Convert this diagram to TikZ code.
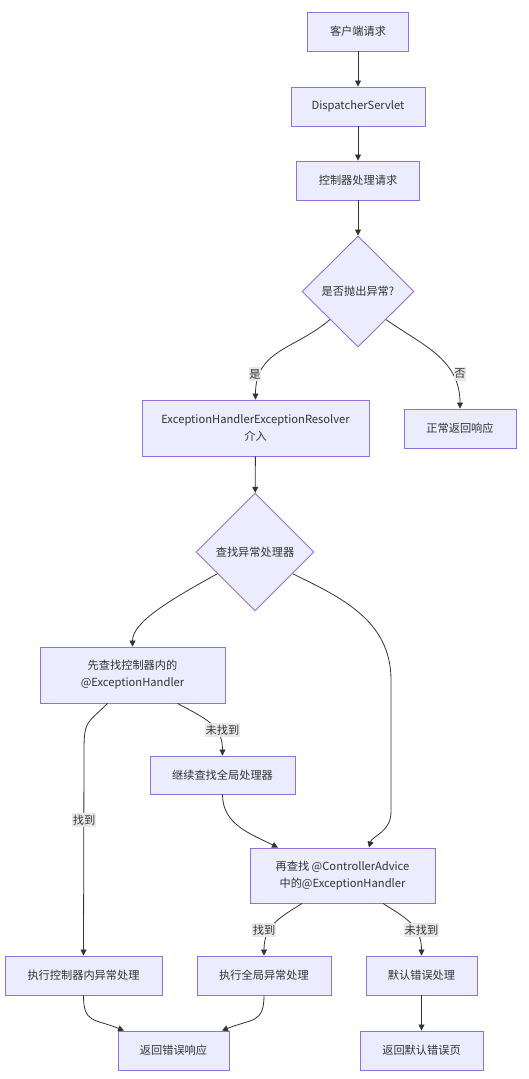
\documentclass[tikz,border=0pt]{standalone}
\usepackage{fontspec}
\setmainfont{Noto Sans CJK SC}
\usepackage{tikz}
\usetikzlibrary{arrows.meta,shapes.geometric}

\definecolor{boxfill}{HTML}{ECECFF}
\definecolor{boxline}{HTML}{9370DB}
\definecolor{edgeline}{HTML}{333333}
\definecolor{lblfill}{HTML}{E8E8E8}

\begin{document}
\begin{tikzpicture}[x=1pt,y=-1pt,font=\fontsize{11.2}{17}\selectfont]
                \tikzstyle{mybox}=[draw=boxline,fill=boxfill,line width=0.9pt,text=edgeline,inner sep=0pt,align=center]
                \tikzstyle{mydiamond}=[mybox,diamond,aspect=1]
                \tikzstyle{mylabel}=[fill=lblfill,text=edgeline,inner xsep=0.5pt,inner ysep=2pt]
                \tikzstyle{myarrows}=[draw=edgeline,line width=0.8pt,-{Triangle[length=6pt,width=6pt]}]
                \useasboundingbox (0,0) rectangle (528,1079);

                \node[mybox,minimum width=101,minimum height=39] (req) at (358,31.5) {客户端请求};
                \node[mybox,minimum width=134,minimum height=39] (disp) at (358,106.5) {DispatcherServlet};
                \node[mybox,minimum width=123,minimum height=39] (ctrl) at (358,180.5) {控制器处理请求};
                \node[mydiamond,minimum width=112,minimum height=111] (thrown) at (358,291.5) {是否抛出异常?};
                \node[mybox,minimum width=227,minimum height=56] (resolver) at (255.5,428) {ExceptionHandlerExceptionResolver\\介入};
                \node[mybox,minimum width=112,minimum height=39] (normal) at (460,428.5) {正常返回响应};
                \node[mydiamond,minimum width=118,minimum height=118] (lookup) at (255,552) {查找异常处理器};
                \node[mybox,minimum width=185,minimum height=56] (local) at (132.5,675) {先查找控制器内的\\@ExceptionHandler};
                \node[mybox,minimum width=145,minimum height=38] (global) at (222.5,775) {继续查找全局处理器};
                \node[mybox,minimum width=185,minimum height=55] (advice) at (342.5,875.5) {再查找 @ControllerAdvice\\中的@ExceptionHandler};
                \node[mybox,minimum width=157,minimum height=39] (runlocal) at (83.5,975.5) {执行控制器内异常处理};
                \node[mybox,minimum width=134,minimum height=39] (runglobal) at (264,975.5) {执行全局异常处理};
                \node[mybox,minimum width=111,minimum height=39] (default) at (421.5,975.5) {默认错误处理};
                \node[mybox,minimum width=111,minimum height=39] (errresp) at (173.5,1050.5) {返回错误响应};
                \node[mybox,minimum width=123,minimum height=39] (errpage) at (421.5,1050.5) {返回默认错误页};

                \draw[myarrows] (req) -- (disp);
                \draw[myarrows] (disp) -- (ctrl);
                \draw[myarrows] (ctrl) -- (thrown);
                \draw[myarrows] (thrown.-135) .. controls +(-35,30) and +(0,-50) .. (resolver.north);
                \draw[myarrows] (thrown.-45) .. controls +(35,25) and +(0,-50) .. (normal.north);
                \draw[myarrows] (resolver) -- (lookup);
                \draw[myarrows] (lookup.-150) .. controls +(-45,25) and +(0,-25) .. (local.north);
                \draw[myarrows] (lookup.-30) .. controls (340,597) and (391,620) .. (391,680)
                        -- (391,812) .. controls (391,832) and (372,836) .. ([xshift=26.5pt]advice.north);
                \draw[myarrows] ([xshift=-25pt]local.south) .. controls +(-20,20) and +(0,-30) .. (84,750) -- (runlocal.north);
                \draw[myarrows] ([xshift=45pt]local.south) .. controls +(28,15) and +(0,-30) .. (global.north);
                \draw[myarrows] (global.south) .. controls +(0,30) and +(-28,-14) .. ([xshift=-64.5pt]advice.north);
                \draw[myarrows] ([xshift=-40.5pt]advice.south) .. controls +(-22,14) and +(0,-30) .. (runglobal.north);
                \draw[myarrows] ([xshift=40.5pt]advice.south) .. controls +(22,14) and +(0,-30) .. (default.north);
                \draw[myarrows] (runlocal.south) .. controls +(0,28) and +(-30,-12) .. ([xshift=-49.5pt]errresp.north);
                \draw[myarrows] (runglobal.south) .. controls +(0,28) and +(30,-12) .. ([xshift=48.5pt]errresp.north);
                \draw[myarrows] (default) -- (errpage);

                \node[mylabel] (yes) at (255,374) {是};
                \node[mylabel] (no) at (460,374) {否};
                \node[mylabel] (foundlocal) at (84,820) {找到};
                \node[mylabel] (notlocal) at (222.5,730) {未找到};
                \node[mylabel] (foundglobal) at (264,930) {找到};
                \node[mylabel] (notglobal) at (421.5,930) {未找到};
                \end{tikzpicture}
\end{document}
